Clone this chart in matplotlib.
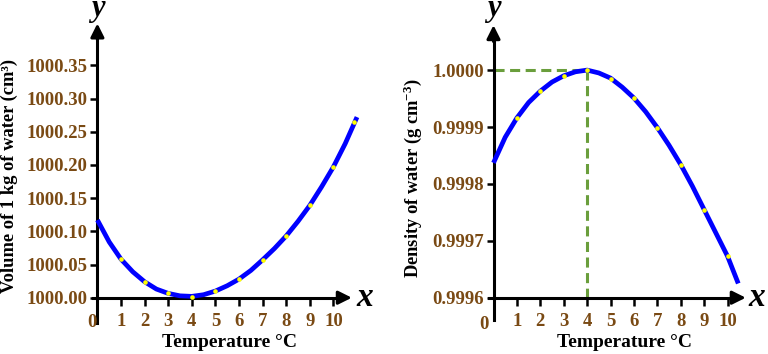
import matplotlib
matplotlib.use("Agg")
import matplotlib.pyplot as plt

plt.rcParams['font.family'] = ['Liberation Serif', 'DejaVu Serif']
plt.rcParams['font.weight'] = 'bold'
plt.rcParams['mathtext.fontset'] = 'custom'
plt.rcParams['mathtext.rm'] = 'Liberation Serif:bold'
plt.rcParams['mathtext.it'] = 'Liberation Serif:italic:bold'
plt.rcParams['mathtext.bf'] = 'Liberation Serif:bold'

# ---------------- data ----------------
x_ticks = [1, 2, 3, 4, 5, 6, 7, 8, 9, 10]
x_ticklabels = ["1", "2", "3", "4", "5", "6", "7", "8", "9", "10"]

# Left: volume of 1 kg of water
vol_curve_t = [0, 0.5, 1, 1.5, 2, 2.5, 3, 3.5, 4, 4.5, 5, 5.5, 6, 6.5, 7, 7.5,
               8, 8.5, 9, 9.5, 10, 10.5, 11.0]
vol_curve_v = [1000.117, 1000.084, 1000.058, 1000.039, 1000.024, 1000.013,
               1000.0065, 1000.0028, 1000.002, 1000.0045, 1000.010, 1000.018,
               1000.028, 1000.041, 1000.057, 1000.074, 1000.093, 1000.115,
               1000.139, 1000.167, 1000.197, 1000.232, 1000.272]
vol_dots_t = [1, 2, 3, 4, 5, 6, 7, 8, 9, 10, 10.88]
vol_dots_v = [1000.058, 1000.024, 1000.0065, 1000.0015, 1000.010, 1000.028,
              1000.0567, 1000.093, 1000.139, 1000.197, 1000.264]
vol_yticks = [1000.00, 1000.05, 1000.10, 1000.15, 1000.20, 1000.25, 1000.30, 1000.35]
vol_yticklabels = ["1000.00", "1000.05", "1000.10", "1000.15", "1000.20",
                   "1000.25", "1000.30", "1000.35"]

# Right: density of water
den_curve_t = [0, 0.5, 1, 1.5, 2, 2.5, 3, 3.5, 4, 4.5, 5, 5.5, 6, 6.5, 7, 7.5,
               8, 8.5, 9, 9.5, 10, 10.46]
den_curve_v = [0.999837, 0.999882, 0.999916, 0.999943, 0.999963, 0.999979,
               0.999990, 0.999997, 1.000000, 0.999995, 0.999986, 0.999970,
               0.999951, 0.999927, 0.999899, 0.999868, 0.999834, 0.999796,
               0.999755, 0.999714, 0.999673, 0.999625]
den_dots_t = [1, 2, 3, 4, 5, 6, 7, 8, 9, 10]
den_dots_v = [0.999916, 0.999963, 0.999989, 1.0000, 0.999984, 0.999951,
              0.999899, 0.999834, 0.999755, 0.999673]
den_yticks = [0.9996, 0.9997, 0.9998, 0.9999, 1.0000]
den_yticklabels = ["0.9996", "0.9997", "0.9998", "0.9999", "1.0000"]
max_t = 4
max_d = 1.0000

BROWN = "#7a4a14"
BLUE = "#0000ff"
GREEN = "#6a9e3c"
W, H = 768, 354

fig = plt.figure(figsize=(W / 100, H / 100), dpi=100)


def make_axes(x0px, xunit, y0px, yunit, ybase, xlim, ylim):
    left = x0px + xlim[0] * xunit
    right = x0px + xlim[1] * xunit
    bottom = y0px - (ylim[0] - ybase) * yunit
    top = y0px - (ylim[1] - ybase) * yunit
    ax = fig.add_axes([left / W, 1 - bottom / H, (right - left) / W, (bottom - top) / H])
    ax.set_xlim(*xlim)
    ax.set_ylim(*ylim)
    ax.patch.set_alpha(0)
    return ax


def style_axes(ax, ybase, ybottom_ext, ytip, xleft_ext, xtip, yticks, yticklabels, ylabel):
    ax.spines['top'].set_visible(False)
    ax.spines['right'].set_visible(False)
    ax.spines['left'].set_position(('data', 0))
    ax.spines['bottom'].set_position(('data', ybase))
    ax.spines['left'].set_bounds(ybottom_ext, ytip - (ytip - ybase) * 0.03)
    ax.spines['bottom'].set_bounds(xleft_ext, xtip - 0.3)
    for s in ('left', 'bottom'):
        ax.spines[s].set_linewidth(2.2)
        ax.spines[s].set_color('black')
    ax.set_xticks(x_ticks)
    ax.set_xticklabels(x_ticklabels)
    ax.set_yticks(yticks)
    ax.set_yticklabels(yticklabels)
    ax.tick_params(axis='x', direction='out', length=6, width=1.8, pad=5,
                   labelsize=13.5, labelcolor=BROWN)
    ax.tick_params(axis='y', direction='out', length=5, width=1.8, pad=2,
                   labelsize=13.5, labelcolor=BROWN)
    for lab in ax.get_xticklabels() + ax.get_yticklabels():
        lab.set_fontweight('bold')
    ax.annotate('', xy=(0, ytip), xytext=(0, ytip - (ytip - ybase) * 0.06),
                arrowprops=dict(arrowstyle='-|>', color='black', lw=2.2,
                                mutation_scale=20, shrinkA=0, shrinkB=0),
                annotation_clip=False)
    ax.annotate('', xy=(xtip, ybase), xytext=(xtip - 0.6, ybase),
                arrowprops=dict(arrowstyle='-|>', color='black', lw=2.2,
                                mutation_scale=20, shrinkA=0, shrinkB=0),
                annotation_clip=False)
    ax.set_xlabel("Temperature °C", fontsize=14, fontweight='bold', labelpad=3)
    ax.set_ylabel(ylabel, fontsize=13.3, fontweight='bold')


DASH = (0, (3.3, 1.8))

# ---------------- left chart ----------------
axL = make_axes(97.4, 23.6, 297.7, 664.0, 1000.0, (-0.4, 11.6), (999.952, 1000.43))
style_axes(axL, 1000.0, 999.962, 1000.413, -0.2, 10.78,
           vol_yticks, vol_yticklabels, "Volume of 1 kg of water (cm³)")
axL.plot(vol_curve_t, vol_curve_v, color=BLUE, lw=3.4, solid_capstyle='butt',
         solid_joinstyle='round', clip_on=False, zorder=3)
axL.plot(vol_dots_t, vol_dots_v, 'o', color='#ffff00', ms=3.3, mec='none',
         clip_on=False, zorder=4)
axL.text(-0.24, 999.9664, "0", color=BROWN, fontsize=13.5, fontweight='bold',
         ha='center', va='center_baseline')
axL.text(0, 1000.4242, "y", fontsize=22, fontstyle='italic', fontweight='bold',
         ha='center', va='baseline')
axL.text(11.35, 1000.0, "x", fontsize=24, fontstyle='italic', fontweight='bold',
         ha='center', va='center')
axL.yaxis.set_label_coords(-0.247, 0.484)

# ---------------- right chart ----------------
axR = make_axes(493.5, 23.4, 297.7, 569000.0, 0.9996, (-0.4, 11.6), (0.99955, 1.00012))
style_axes(axR, 0.9996, 0.999561, 1.000079, -0.2, 10.78,
           den_yticks, den_yticklabels, "Density of water (g cm$^{-3}$)")
axR.plot([0, max_t], [max_d, max_d], color=GREEN, lw=2.2, ls=DASH, zorder=2)
axR.plot([max_t, max_t], [max_d, 0.9996], color=GREEN, lw=2.2, ls=DASH, zorder=2)
axR.plot(den_curve_t, den_curve_v, color=BLUE, lw=3.4, solid_capstyle='butt',
         solid_joinstyle='round', clip_on=False, zorder=3)
axR.plot(den_dots_t, den_dots_v, 'o', color='#ffff00', ms=3.3, mec='none',
         clip_on=False, zorder=4)
axR.text(-0.4, 0.999557, "0", color=BROWN, fontsize=13.5, fontweight='bold',
         ha='center', va='center_baseline')
axR.text(0, 1.000095, "y", fontsize=22, fontstyle='italic', fontweight='bold',
         ha='center', va='baseline')
axR.text(11.26, 0.9996, "x", fontsize=24, fontstyle='italic', fontweight='bold',
         ha='center', va='center')
axR.yaxis.set_label_coords(-0.214, 0.457)

fig.savefig("out.png", dpi=100)
